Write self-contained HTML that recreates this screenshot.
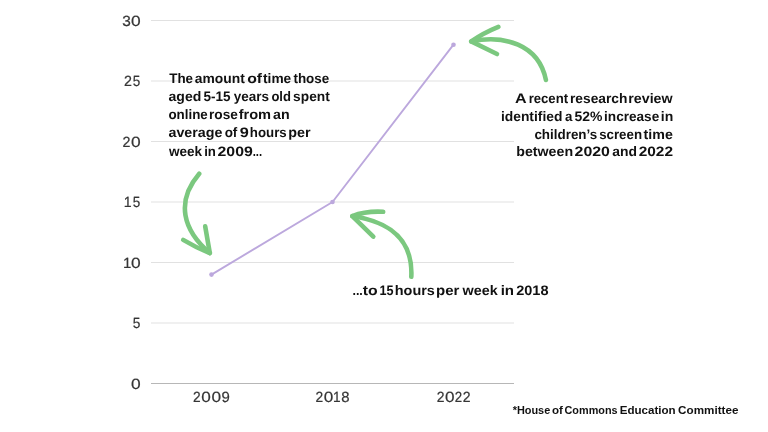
<!DOCTYPE html>
<html><head><meta charset="utf-8"><title>Chart</title>
<style>
html,body{margin:0;padding:0;background:#fff;}
body{width:768px;height:432px;overflow:hidden;font-family:"Liberation Sans",sans-serif;}
svg{display:block;position:absolute;left:0;top:0;will-change:transform;}
.ax{font-family:"Liberation Sans",sans-serif;font-size:14.8px;fill:#353535;stroke:#353535;stroke-width:0.2px;text-rendering:geometricPrecision;}
.an{font-family:"Liberation Sans",sans-serif;font-weight:bold;font-size:13.7px;fill:#111;word-spacing:-2px;text-rendering:geometricPrecision;}
.ft{font-family:"Liberation Sans",sans-serif;font-weight:bold;font-size:10.5px;fill:#111;word-spacing:-1.5px;}
.arrow{fill:none;stroke:#7bc87f;stroke-width:4.6;stroke-linecap:round;stroke-linejoin:round;}
</style></head><body>
<svg width="768" height="432" viewBox="0 0 768 432">
<rect x="0" y="0" width="768" height="432" fill="#ffffff"/>

<rect x="151" y="322.5" width="363" height="1" fill="#e1e1e1"/>
<rect x="151" y="262.0" width="363" height="1" fill="#e1e1e1"/>
<rect x="151" y="201.5" width="363" height="1" fill="#e1e1e1"/>
<rect x="151" y="141.0" width="363" height="1" fill="#e1e1e1"/>
<rect x="151" y="80.5" width="363" height="1" fill="#e1e1e1"/>
<rect x="151" y="20.0" width="363" height="1" fill="#e1e1e1"/>
<rect x="151" y="383.0" width="363" height="1" fill="#b7b7b7"/>
<text class="ax" transform="translate(122.21,25.75) scale(1.040,1)">3</text>
<text class="ax" transform="translate(131.02,25.75) scale(1.173,1)">0</text>
<text class="ax" transform="translate(123.88,86.25) scale(0.964,1)">2</text>
<text class="ax" transform="translate(132.76,86.25) scale(0.912,1)">5</text>
<text class="ax" transform="translate(122.58,146.75) scale(0.964,1)">2</text>
<text class="ax" transform="translate(131.02,146.75) scale(1.173,1)">0</text>
<text class="ax" transform="translate(123.82,207.25) scale(0.956,1)">1</text>
<text class="ax" transform="translate(132.76,207.25) scale(0.912,1)">5</text>
<text class="ax" transform="translate(122.95,267.75) scale(1.019,1)">1</text>
<text class="ax" transform="translate(131.02,267.75) scale(1.173,1)">0</text>
<text class="ax" transform="translate(132.65,328.25) scale(0.926,1)">5</text>
<text class="ax" transform="translate(131.02,388.75) scale(1.173,1)">0</text>
<text class="ax" transform="translate(193.11,402.00) scale(0.927,1)">2</text>
<text class="ax" transform="translate(201.33,402.00) scale(1.159,1)">0</text>
<text class="ax" transform="translate(211.38,402.00) scale(1.166,1)">0</text>
<text class="ax" transform="translate(221.60,402.00) scale(1.009,1)">9</text>
<text class="ax" transform="translate(315.40,402.00) scale(0.934,1)">2</text>
<text class="ax" transform="translate(323.63,402.00) scale(1.159,1)">0</text>
<text class="ax" transform="translate(333.06,402.00) scale(0.925,1)">1</text>
<text class="ax" transform="translate(341.15,402.00) scale(1.008,1)">8</text>
<text class="ax" transform="translate(436.65,402.00) scale(0.942,1)">2</text>
<text class="ax" transform="translate(444.88,402.00) scale(1.159,1)">0</text>
<text class="ax" transform="translate(454.83,402.00) scale(0.897,1)">2</text>
<text class="ax" transform="translate(462.69,402.00) scale(0.949,1)">2</text>
<polyline points="211.5,274.6 332.5,202.0 453.5,44.7" fill="none" stroke="#bca8dd" stroke-width="1.9" stroke-linejoin="round" stroke-linecap="round"/>
<circle cx="211.5" cy="274.6" r="2.3" fill="#bca8dd"/>
<circle cx="332.5" cy="202.0" r="2.3" fill="#bca8dd"/>
<circle cx="453.5" cy="44.7" r="2.3" fill="#bca8dd"/>
<path class="arrow" d="M199.2 173.8 C 175.3 201.8, 183 230.2, 209.8 253"/>
<path class="arrow" d="M183.2 239.9 Q 195.8 247.6 209.8 253 L205.2 226.3"/>
<path class="arrow" d="M411.3 276.8 C 413.2 237.4, 387.6 221.6, 352.3 216.1"/>
<path class="arrow" d="M383.2 211.8 Q 366 210.8 352.3 216.1 L373.3 236.6"/>
<path class="arrow" d="M545.9 79.9 C 538.6 44.0, 503.7 34.7, 471.2 41.4"/>
<path class="arrow" d="M498.4 26.8 Q 483.5 32.8 471.2 41.4 L497 54"/>
<text class="an" x="169.25" y="83.4" textLength="23.81" lengthAdjust="spacingAndGlyphs">The</text>
<text class="an" x="194.79" y="83.4" textLength="49.97" lengthAdjust="spacingAndGlyphs">amount</text>
<text class="an" x="247.18" y="83.4" textLength="14.89" lengthAdjust="spacingAndGlyphs">of</text>
<text class="an" x="263.03" y="83.4" textLength="28.24" lengthAdjust="spacingAndGlyphs">time</text>
<text class="an" x="293.44" y="83.4" textLength="35.82" lengthAdjust="spacingAndGlyphs">those</text>
<text class="an" x="168.49" y="101.4" textLength="32.84" lengthAdjust="spacingAndGlyphs">aged</text>
<text class="an" x="203.38" y="101.4" textLength="27.09" lengthAdjust="spacingAndGlyphs">5-15</text>
<text class="an" x="233.64" y="101.4" textLength="35.31" lengthAdjust="spacingAndGlyphs">years</text>
<text class="an" x="271.39" y="101.4" textLength="19.57" lengthAdjust="spacingAndGlyphs">old</text>
<text class="an" x="293.12" y="101.4" textLength="36.65" lengthAdjust="spacingAndGlyphs">spent</text>
<text class="an" x="168.38" y="119.4" textLength="39.38" lengthAdjust="spacingAndGlyphs">online</text>
<text class="an" x="209.00" y="119.4" textLength="28.87" lengthAdjust="spacingAndGlyphs">rose</text>
<text class="an" x="238.65" y="119.4" textLength="32.46" lengthAdjust="spacingAndGlyphs">from</text>
<text class="an" x="273.08" y="119.4" textLength="16.60" lengthAdjust="spacingAndGlyphs">an</text>
<text class="an" x="168.48" y="137.4" textLength="54.01" lengthAdjust="spacingAndGlyphs">average</text>
<text class="an" x="224.67" y="137.4" textLength="12.70" lengthAdjust="spacingAndGlyphs">of</text>
<text class="an" x="239.83" y="137.4" textLength="9.07" lengthAdjust="spacingAndGlyphs">9</text>
<text class="an" x="249.87" y="137.4" textLength="36.87" lengthAdjust="spacingAndGlyphs">hours</text>
<text class="an" x="288.15" y="137.4" textLength="22.36" lengthAdjust="spacingAndGlyphs">per</text>
<text class="an" x="168.94" y="155.5" textLength="33.15" lengthAdjust="spacingAndGlyphs">week</text>
<text class="an" x="204.18" y="155.5" textLength="11.74" lengthAdjust="spacingAndGlyphs">in</text>
<text class="an" x="217.55" y="155.5" textLength="35.24" lengthAdjust="spacingAndGlyphs">2009</text>
<text class="an" x="252.73" y="155.5" textLength="9.45" lengthAdjust="spacingAndGlyphs">...</text>
<text class="an" x="515.10" y="103.3" textLength="11.63" lengthAdjust="spacingAndGlyphs">A</text>
<text class="an" x="528.63" y="103.3" textLength="39.43" lengthAdjust="spacingAndGlyphs">recent</text>
<text class="an" x="569.99" y="103.3" textLength="57.46" lengthAdjust="spacingAndGlyphs">research</text>
<text class="an" x="628.26" y="103.3" textLength="44.41" lengthAdjust="spacingAndGlyphs">review</text>
<text class="an" x="500.93" y="120.9" textLength="61.48" lengthAdjust="spacingAndGlyphs">identified</text>
<text class="an" x="565.01" y="120.9" textLength="7.41" lengthAdjust="spacingAndGlyphs">a</text>
<text class="an" x="574.47" y="120.9" textLength="28.00" lengthAdjust="spacingAndGlyphs">52%</text>
<text class="an" x="604.05" y="120.9" textLength="55.21" lengthAdjust="spacingAndGlyphs">increase</text>
<text class="an" x="660.82" y="120.9" textLength="12.45" lengthAdjust="spacingAndGlyphs">in</text>
<text class="an" x="534.38" y="138.5" textLength="62.87" lengthAdjust="spacingAndGlyphs">children&#8217;s</text>
<text class="an" x="599.13" y="138.5" textLength="42.89" lengthAdjust="spacingAndGlyphs">screen</text>
<text class="an" x="643.63" y="138.5" textLength="29.26" lengthAdjust="spacingAndGlyphs">time</text>
<text class="an" x="516.26" y="156.1" textLength="56.82" lengthAdjust="spacingAndGlyphs">between</text>
<text class="an" x="574.55" y="156.1" textLength="35.40" lengthAdjust="spacingAndGlyphs">2020</text>
<text class="an" x="612.19" y="156.1" textLength="24.72" lengthAdjust="spacingAndGlyphs">and</text>
<text class="an" x="638.66" y="156.1" textLength="34.35" lengthAdjust="spacingAndGlyphs">2022</text>
<text class="an" x="352.45" y="294.9" textLength="10.41" lengthAdjust="spacingAndGlyphs">...</text>
<text class="an" x="362.81" y="294.9" textLength="14.91" lengthAdjust="spacingAndGlyphs">to</text>
<text class="an" x="379.40" y="294.9" textLength="14.05" lengthAdjust="spacingAndGlyphs">15</text>
<text class="an" x="394.79" y="294.9" textLength="40.10" lengthAdjust="spacingAndGlyphs">hours</text>
<text class="an" x="436.01" y="294.9" textLength="23.42" lengthAdjust="spacingAndGlyphs">per</text>
<text class="an" x="462.54" y="294.9" textLength="35.14" lengthAdjust="spacingAndGlyphs">week</text>
<text class="an" x="500.65" y="294.9" textLength="13.39" lengthAdjust="spacingAndGlyphs">in</text>
<text class="an" x="516.20" y="294.9" textLength="32.35" lengthAdjust="spacingAndGlyphs">2018</text>
<text class="ft" x="512.67" y="413.6" textLength="37.61" lengthAdjust="spacingAndGlyphs">*House</text>
<text class="ft" x="552.05" y="413.6" textLength="10.93" lengthAdjust="spacingAndGlyphs">of</text>
<text class="ft" x="564.56" y="413.6" textLength="52.99" lengthAdjust="spacingAndGlyphs">Commons</text>
<text class="ft" x="619.73" y="413.6" textLength="55.99" lengthAdjust="spacingAndGlyphs">Education</text>
<text class="ft" x="678.12" y="413.6" textLength="60.28" lengthAdjust="spacingAndGlyphs">Committee</text>
</svg></body></html>
